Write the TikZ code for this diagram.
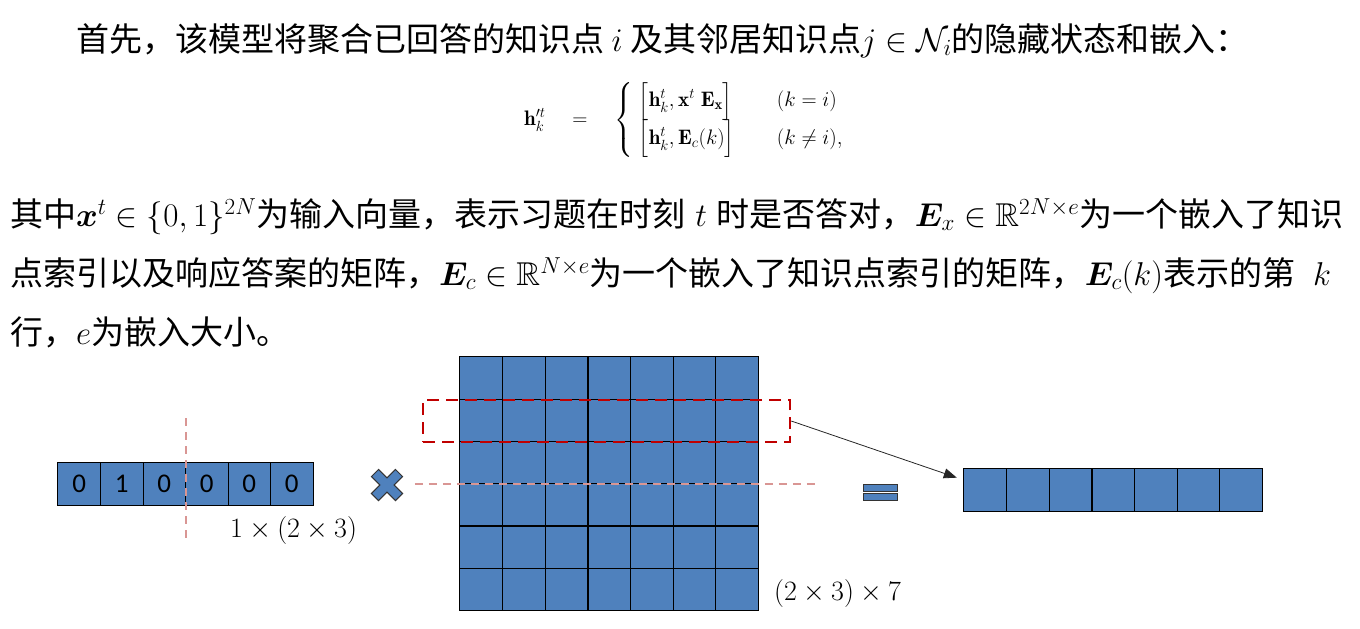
\documentclass[tikz,border=0pt]{standalone}
\usepackage{fix-cm}
\usepackage{amsmath,amssymb,bm}
\usepackage{fontspec}
\newfontfamily\cjk{Noto Sans CJK SC}
\newfontfamily\digitfont{Carlito}
\usetikzlibrary{positioning,arrows.meta}

\definecolor{cellblue}{RGB}{79,129,189}
\definecolor{boxred}{RGB}{192,0,0}
\definecolor{guidered}{RGB}{217,150,148}

\tikzset{
  cell/.style={fill=cellblue, minimum width=42.6pt, minimum height=42.3pt,
    inner sep=0pt, font=\digitfont\fontsize{27}{27}\selectfont},
  grid line/.style={draw=black, line width=1.2pt},
  guide/.style={draw=guidered, line width=1.6pt, dash pattern=on 8pt off 6pt},
  hilite/.style={draw=boxred, line width=2.5pt, dash pattern=on 12pt off 7pt,
    minimum width=367pt, minimum height=42pt, inner sep=0pt},
  bar/.style={draw=black!80, line width=1pt, fill=cellblue, minimum width=34pt,
    minimum height=6.5pt, inner sep=0pt},
  txt/.style={anchor=base west, inner sep=0pt, font=\cjk\fontsize{33}{33}\selectfont},
  dimlabel/.style={inner sep=0pt, font=\fontsize{28}{28}\selectfont},
}

\begin{document}
\begin{tikzpicture}[x=1pt, y=-1pt]
\useasboundingbox (0,0) rectangle (1360,629);

% text
\node[txt] (line1) at (76,51) {首先，该模型将聚合已回答的知识点 $i$ 及其邻居知识点$j\in\mathcal{N}_i$的隐藏状态和嵌入：};
\node[anchor=west, inner sep=0pt, font=\fontsize{21}{24}\selectfont] (hdef) at (524,120)
  {$\mathbf{h}_k^{\prime t}\quad=\quad\left\{\;\begin{array}{@{}l@{\qquad}l@{}}
    \Big[\mathbf{h}^{t}_{k},\mathbf{x}^{t}\;\mathbf{E}_{\mathbf{x}}\Big] & (k=i)\\[2pt]
    \Big[\mathbf{h}^{t}_{k},\mathbf{E}_{c}(k)\Big] & (k\neq i),
  \end{array}\right.$};
\node[txt] (line2) at (10,226) {其中$\bm{x}^t\in\{0,1\}^{2N}$为输入向量，表示习题在时刻\hspace{10pt}$t$\hspace{10pt}时是否答对，$\bm{E}_x\in\mathbb{R}^{2N\times e}$为一个嵌入了知识};
\node[txt] (line3) at (10,285) {点索引以及响应答案的矩阵，$\bm{E}_c\in\mathbb{R}^{N\times e}$为一个嵌入了知识点索引的矩阵，$\bm{E}_c(k)$表示的第\hspace{18pt}$k$};
\node[txt] (line4) at (10,344) {行，$e$为嵌入大小。};

%%%%%%%%%%%%%%%%%%%%%%%%%%%%%%%%%%%%%%%%

% input vector
\foreach \d [count=\i] in {0,1,0,0,0,0}
  \node[cell] (v\i) at ({58+42.5*(\i-0.5)}, 484) {\d};
\draw[grid line] (v1.north west) rectangle (v6.south east);
\foreach \i in {1,...,5}
  \draw[grid line] (v\i.north east) -- (v\i.south east);
\draw[guide] ([yshift=66pt]v3.east) -- ([yshift=-57pt]v3.east);
\node[dimlabel, anchor=west] (vdim) at (230,530) {$1\times(2\times3)$};

% times sign
\coordinate (times) at (387,485);
\draw[fill=cellblue, draw=black!80, line width=1pt, shift={(times)}, rotate=45]
  (-5,-17) -- (5,-17) -- (5,-5) -- (17,-5) -- (17,5) -- (5,5) -- (5,17)
  -- (-5,17) -- (-5,5) -- (-17,5) -- (-17,-5) -- (-5,-5) -- cycle;

% embedding matrix
\foreach \r in {1,...,6}
  \foreach \c in {1,...,7}
    \node[cell] (m\r\c) at ({460+42.6*(\c-0.5)}, {357+42.2*(\r-0.5)}) {};
\draw[grid line] (m11.north west) rectangle (m67.south east);
\foreach \c in {1,...,6}
  \draw[grid line] (m1\c.north east) -- (m6\c.south east);
\foreach \r in {1,...,5}
  \draw[grid line] (m\r1.south west) -- (m\r7.south east);
\draw[guide] ([xshift=-45pt]m31.south west) -- ([xshift=60pt]m37.south east);
\node[hilite] (sel) at (606.5,421) {};
\node[dimlabel, anchor=west] (mdim) at (774,593) {$(2\times3)\times7$};

% equals sign
\node[bar] (eq1) at (880.5,488) {};
\node[bar] (eq2) at (880.5,497) {};

% output row
\foreach \c in {1,...,7}
  \node[cell] (o\c) at ({964+42.6*(\c-0.5)}, 490) {};
\draw[grid line] (o1.north west) rectangle (o7.south east);
\foreach \c in {1,...,6}
  \draw[grid line] (o\c.north east) -- (o\c.south east);
\draw[-{Triangle[length=13pt,width=10pt]}, line width=0.8pt, black!85]
  (sel.east) -- ([shift={(-7pt,-9pt)}]o1.north west);

\end{tikzpicture}
\end{document}
